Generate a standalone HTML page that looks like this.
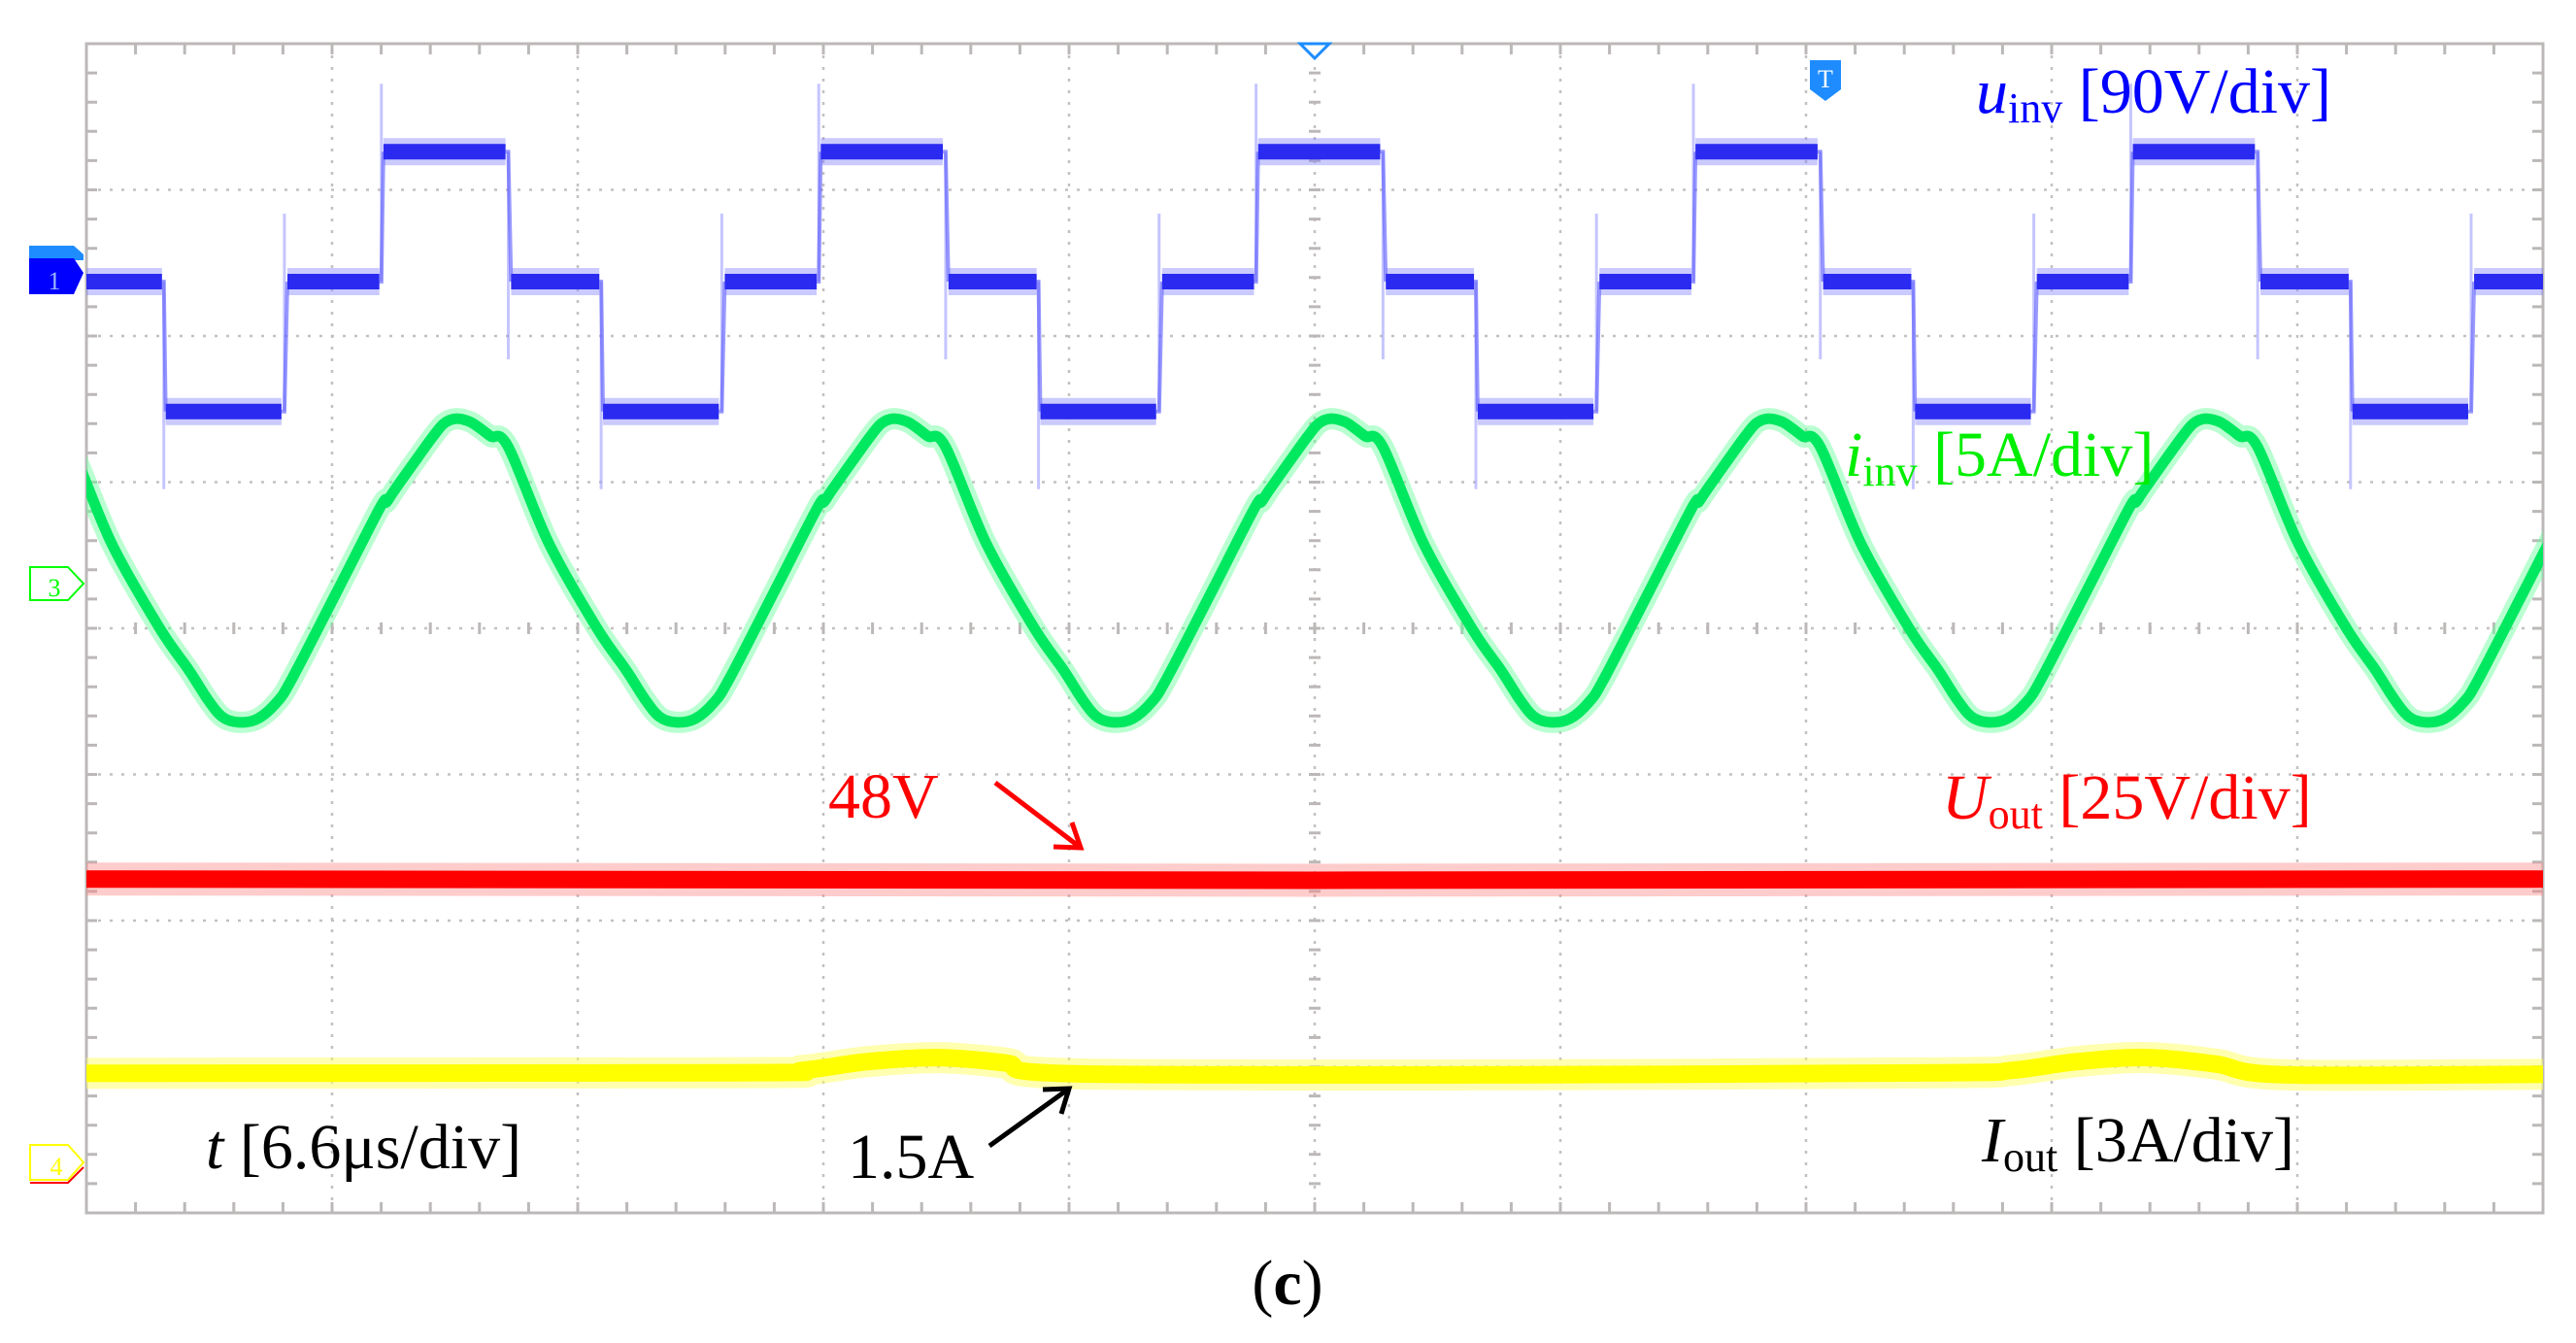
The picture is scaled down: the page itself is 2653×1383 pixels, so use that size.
<!DOCTYPE html>
<html><head><meta charset="utf-8">
<style>
html,body{margin:0;padding:0;background:#fff;}
svg{display:block;}
text{font-family:"Liberation Serif",serif;}
</style></head>
<body>
<svg id="scope" width="2653" height="1383" viewBox="0 0 2653 1383" xmlns="http://www.w3.org/2000/svg">
<g id="grid"></g>
<g id="traces"></g>
<g id="markers">
  <path d="M30,253 H76 L86,262 L86,268 H30 Z" fill="#1e8cff"/>
  <path d="M30,266 H76 L86,281 L76,303 H30 Z" fill="#0000ff"/>
  <text x="56" y="298" font-size="26" fill="#9fb8ff" text-anchor="middle">1</text>
  <path d="M31,584 H70 L86,601 L70,618 H31 Z" fill="none" stroke="#00ff00" stroke-width="2"/>
  <text x="56" y="614" font-size="26" fill="#00ff00" text-anchor="middle">3</text>
  <path d="M31,1179 H70 L86,1197 L70,1215 H31 Z" fill="none" stroke="#ffff00" stroke-width="2"/>
  <path d="M31,1218 H70 L86,1202" fill="none" stroke="#ff0000" stroke-width="2"/>
  <text x="58" y="1210" font-size="26" fill="#ffff00" text-anchor="middle">4</text>
  <path d="M1864,62 H1896 V92 L1880,104 L1864,92 Z" fill="#1e8cff"/>
  <text x="1880" y="90" font-size="26" fill="#fff" text-anchor="middle" font-family="Liberation Sans, sans-serif">T</text>
  <path d="M1339,45 H1369 L1354,60 Z" fill="#fff" stroke="#1e8cff" stroke-width="3"/>
</g>
<g id="labels">
  <text x="2035" y="116" font-size="66" fill="#0000ff"><tspan font-style="italic">u</tspan><tspan font-size="44" dy="10">inv</tspan><tspan dy="-10"> [90V/div]</tspan></text>
  <text x="1900" y="490" font-size="66" fill="#00ee00"><tspan font-style="italic">i</tspan><tspan font-size="44" dy="10">inv</tspan><tspan dy="-10"> [5A/div]</tspan></text>
  <text x="853" y="842" font-size="66" fill="#ff0000">48V</text>
  <text x="2000" y="843" font-size="66" fill="#ff0000"><tspan font-style="italic">U</tspan><tspan font-size="44" dy="10">out</tspan><tspan dy="-10"> [25V/div]</tspan></text>
  <text x="873" y="1213" font-size="66" fill="#000">1.5A</text>
  <text x="2041" y="1196" font-size="66" fill="#000"><tspan font-style="italic">I</tspan><tspan font-size="44" dy="10">out</tspan><tspan dy="-10"> [3A/div]</tspan></text>
  <text x="212" y="1203" font-size="66" fill="#000"><tspan font-style="italic">t</tspan> [6.6μs/div]</text>
  <text x="1326" y="1343" font-size="66" fill="#000" text-anchor="middle">(<tspan font-weight="bold">c</tspan>)</text>
  <g stroke="#ff0000" stroke-width="5" fill="none">
    <line x1="1025" y1="806" x2="1113" y2="873"/>
    <path d="M1085,872 L1113,873 L1104,847"/>
  </g>
  <g stroke="#000" stroke-width="5" fill="none">
    <line x1="1019" y1="1180" x2="1101" y2="1121"/>
    <path d="M1074,1122 L1101,1121 L1093,1147"/>
  </g>
</g>
</svg>
<script>
// ---- chart data ----
const xDivs = 10, yDivs = 8;
const timePerDiv = 6.6;          // µs/div
const blueScale = 90;            // V/div
const greenScale = 5;            // A/div
const redScale = 25;             // V/div
const yellowScale = 3;           // A/div
// u_inv: repeating three-level pattern (levels in V, segment start/end in µs within a period)
const bluePeriod = 11.75;
const bluePatternLevels = [80, 0, -80, 0];
const bluePatternStart = [0, 3.43, 5.90, 9.17];
const bluePatternEnd = [3.28, 5.80, 9.01, 11.64];
const blueFirstHighStart = 7.98;
// i_inv: one measured period (µs from trough, A)
const greenPhase = [0, 0.5, 1.0, 1.40, 2.60, 3.79, 3.95, 4.16, 4.8, 5.20, 5.5, 5.82, 6.2, 6.50, 6.76, 7.22, 8.32, 9.61, 10.39, 10.9, 11.3, 11.75];
const greenVals  = [-4.78, -4.65, -4.1, -3.32, -0.36, 2.59, 2.75, 3.15, 4.3, 5.0, 5.45, 5.61, 5.5, 5.25, 5.0, 4.65, 1.33, -1.56, -2.99, -4.0, -4.6, -4.78];
const greenFirstTrough = 4.11;
// U_out
const redTimes = [0, 33, 66];
const redVals = [48.3, 48.1, 48.3];
// I_out
const yellowTimes = [0, 17.5, 19.25, 21.0, 22.87, 24.7, 26.53, 39.26, 50.0, 51.73, 53.5, 55.35, 57.2, 59.0, 66];
const yellowVals  = [1.81, 1.82, 1.87, 2.05, 2.13, 2.02, 1.80, 1.78, 1.82, 1.87, 2.05, 2.13, 2.0, 1.78, 1.79];

// ---- geometry ----
const L = 89, T = 45, DX = 253, DY = 150.5;
const R = L + xDivs * DX, B = T + yDivs * DY;
const ns = 'http://www.w3.org/2000/svg';
const xT = t => L + t / timePerDiv * DX;
const yBlue = v => 290 - v / blueScale * DY;
const yGreen = v => 600 - v / greenScale * DY;
const yRed = v => 1196 - v / redScale * DY;
const yYellow = v => 1196 - v / yellowScale * DY;
function mk(tag, parent, attrs) { const e = document.createElementNS(ns, tag); for (const k in attrs) e.setAttribute(k, attrs[k]); parent.appendChild(e); return e; }
function smooth(pts) {
  let d = 'M' + pts[0][0].toFixed(1) + ',' + pts[0][1].toFixed(1);
  for (let i = 0; i < pts.length - 1; i++) {
    const p0 = pts[Math.max(0, i - 1)], p1 = pts[i], p2 = pts[i + 1], p3 = pts[Math.min(pts.length - 1, i + 2)];
    const c1 = [p1[0] + (p2[0] - p0[0]) / 6, p1[1] + (p2[1] - p0[1]) / 6];
    const c2 = [p2[0] - (p3[0] - p1[0]) / 6, p2[1] - (p3[1] - p1[1]) / 6];
    d += `C${c1[0].toFixed(1)},${c1[1].toFixed(1)} ${c2[0].toFixed(1)},${c2[1].toFixed(1)} ${p2[0].toFixed(1)},${p2[1].toFixed(1)}`;
  }
  return d;
}

// grid
const g = document.getElementById('grid');
for (let i = 1; i < xDivs; i++) {
  const l = mk('line', g, {x1: L + i * DX, y1: T, x2: L + i * DX, y2: B, stroke: '#c4c0c0', 'stroke-width': 2.5, 'stroke-dasharray': '3 9'});
  
  
}
for (let j = 1; j < yDivs; j++) {
  const l = mk('line', g, {x1: L, y1: T + j * DY, x2: R, y2: T + j * DY, stroke: '#c4c0c0', 'stroke-width': 2.5, 'stroke-dasharray': '3 9'});
  
  
}
const cx = L + 5 * DX, cy = T + 4 * DY;
let tickD = '';
for (let i = 1; i < xDivs * 5; i++) {
  const x = L + i * DX / 5;
  tickD += `M${x},${T}v11M${x},${B}v-11M${x},${cy - 6}v12`;
}
for (let j = 1; j < yDivs * 5; j++) {
  const y = T + j * DY / 5;
  tickD += `M${L},${y}h11M${R},${y}h-11M${cx - 6},${y}h12`;
}
const ticks = mk('path', g, {d: tickD, stroke: '#bcb8b8', 'stroke-width': 3, fill: 'none'});


const border = mk('rect', g, {x: L, y: T, width: R - L, height: B - T, fill: 'none', stroke: '#bcb8b8', 'stroke-width': 3});



const tr = document.getElementById('traces');
const tMax = xDivs * timePerDiv;
const clip = mk('clipPath', tr, {id: 'pc'});
mk('rect', clip, {x: L, y: T, width: R - L, height: B - T});
const layer = mk('g', tr, {'clip-path': 'url(#pc)'});

// blue u_inv
const blueG = mk('g', layer, {});


let segs = [];
for (let k = -2; k < 8; k++) {
  const base = blueFirstHighStart + k * bluePeriod;
  for (let s = 0; s < bluePatternLevels.length; s++) {
    segs.push({a: base + bluePatternStart[s], b: base + bluePatternEnd[s], v: bluePatternLevels[s]});
  }
}
segs = segs.filter(s => s.b > 0 && s.a < tMax).map(s => ({a: Math.max(0, s.a), b: Math.min(tMax, s.b), v: s.v}));
for (let i = 0; i < segs.length; i++) {
  const s = segs[i];
  const x1 = xT(s.a), x2 = xT(s.b), y = yBlue(s.v);
  mk('rect', blueG, {x: x1, y: y - 14, width: x2 - x1, height: 28, fill: '#7a7aff', opacity: 0.4});
  mk('rect', blueG, {x: x1, y: y - 8, width: x2 - x1, height: 16, fill: '#2a2af0'});
  if (i + 1 < segs.length) {
    const n = segs[i + 1];
    const xe = (x2 + xT(n.a)) / 2, ye = yBlue(n.v);
    const over = n.v > s.v ? -70 : (n.v < s.v ? 40 : 0);
    const yTop = Math.min(y, ye) + (n.v > s.v ? over : 0);
    const yBot = Math.max(y, ye) + (n.v < s.v ? over * 2 : 0);
    mk('line', blueG, {x1: xe, y1: yTop, x2: xe, y2: yBot, stroke: '#a0a0ff', 'stroke-width': 3, opacity: 0.6});
    mk('path', blueG, {d: `M${x2},${y}L${xe},${y}L${xT(n.a)},${ye}`, stroke: '#5555ff', 'stroke-width': 4, fill: 'none', opacity: 0.6});
  }
}

// green i_inv
let gpts = [];
for (let k = -1; k < 7; k++) {
  for (let i = 0; i < greenPhase.length - 1; i++) {
    const t = greenFirstTrough + (k - 1) * bluePeriod + greenPhase[i];
    if (t >= -1.5 && t <= tMax + 1.5) gpts.push([xT(t), yGreen(greenVals[i])]);
  }
}
const gd = smooth(gpts);
const gHalo = mk('path', layer, {d: gd, stroke: '#66ff99', 'stroke-width': 22, fill: 'none', opacity: 0.45, 'stroke-linejoin': 'round'});


const gLine = mk('path', layer, {d: gd, stroke: '#00e860', 'stroke-width': 11, fill: 'none', 'stroke-linejoin': 'round'});



// red U_out
const rd = 'M' + redTimes.map((t, i) => xT(t) + ',' + yRed(redVals[i])).join('L');
const rHalo = mk('path', layer, {d: rd, stroke: '#ff8080', 'stroke-width': 34, fill: 'none', opacity: 0.4});


const rLine = mk('path', layer, {d: rd, stroke: '#ff0000', 'stroke-width': 18, fill: 'none'});



// yellow I_out
const ypts = yellowTimes.map((t, i) => [xT(t), yYellow(yellowVals[i])]);
const yd = smooth(ypts);
const yHalo = mk('path', layer, {d: yd, stroke: '#ffff60', 'stroke-width': 32, fill: 'none', opacity: 0.5, 'stroke-linejoin': 'round'});


const yLine = mk('path', layer, {d: yd, stroke: '#ffff00', 'stroke-width': 18, fill: 'none', 'stroke-linejoin': 'round'});


</script>
</body></html>
